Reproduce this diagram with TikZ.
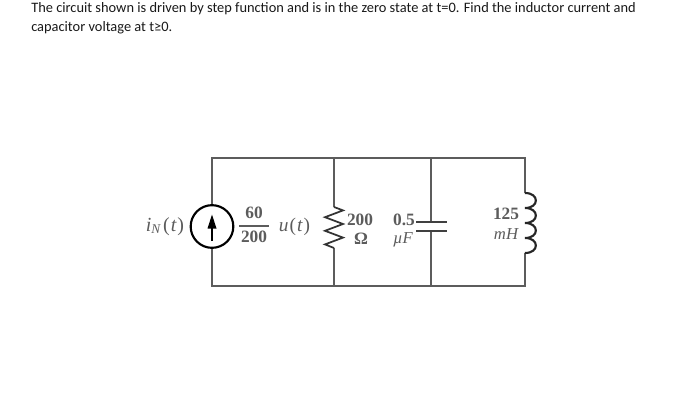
\documentclass[tikz,border=0pt]{standalone}
\usepackage{fontspec}
\setmainfont{Carlito}
\newfontfamily\mathish[Ligatures=TeX]{Liberation Serif}
\definecolor{wirec}{gray}{0.36}
\definecolor{labelc}{gray}{0.36}
\tikzset{
  wire/.style={draw=wirec,line width=1.3pt},
  plate/.style={draw=wirec!70!black,line width=1.6pt},
  ring/.style={circle,draw=black,line width=1.6pt,minimum size=32pt,inner sep=0pt},
  headtext/.style={anchor=base west,inner sep=0pt,font=\fontsize{10.8pt}{12pt}\selectfont,text=black!90},
  lbl/.style={inner sep=0pt,text=labelc,font=\fontsize{13pt}{14pt}\mathish\bfseries},
  mlbl/.style={inner sep=0pt,text=labelc,font=\fontsize{12.5pt}{14pt}\mathish\itshape}
}
\begin{document}
\begin{tikzpicture}[x=0.75pt,y=-0.75pt]
\useasboundingbox[fill=white] (0,0) rectangle (680,413);
\node[headtext] (h1) at (31,13) {The circuit shown is driven by step function and is in the zero state at t=0. Find the inductor current and};
\node[headtext] (h2) at (31,32) {capacitor voltage at t≥0.};
% corners and branch points
\coordinate (tl) at (212,158);
\coordinate (tr) at (525,158);
\coordinate (bl) at (212,286);
\coordinate (br) at (525,286);
\coordinate (rt) at (334,158);
\coordinate (rb) at (334,286);
\coordinate (ct) at (431,158);
\coordinate (cb) at (431,286);
\coordinate (r1) at (334,207);
\coordinate (r2) at (334,248);
\coordinate (c1) at (431,222);
\coordinate (c2) at (431,231);
\coordinate (l1) at (525,193);
\coordinate (l2) at (525,253);
\coordinate (pl1) at (416,222);
\coordinate (pr1) at (447,222);
\coordinate (pl2) at (416,231);
\coordinate (pr2) at (447,231);
\node[ring] (src) at (212,226.5) {};
\coordinate (at) at (212,218);
\coordinate (ab) at (212,241);
% wiring
\draw[wire] (src.north) -- (tl) -- (tr) -- (l1);
\draw[wire] (src.south) -- (bl) -- (br) -- (l2);
\draw[wire] (rt) -- (r1);
\draw[wire] (r2) -- (rb);
\draw[wire] (ct) -- (c1);
\draw[wire] (c2) -- (cb);
% resistor
\draw[wire,line join=miter,draw=black!80] (r1) -- ++(9,3.4) -- ++(-18,6.8) -- ++(18,6.8) -- ++(-18,6.8) -- ++(18,6.8) -- ++(-18,6.8) -- (r2);
% capacitor
\draw[plate] (pl1) -- (pr1);
\draw[plate] (pl2) -- (pr2);
% inductor
\draw[wire,line width=1.6pt,draw=black!85] (l1)
  .. controls (539.5,193) and (539.5,208) .. (525,208)
  .. controls (539.5,208) and (539.5,223) .. (525,223)
  .. controls (539.5,223) and (539.5,238) .. (525,238)
  .. controls (539.5,238) and (539.5,253) .. (l2);
% source arrow
\draw[black,line width=0.8pt] (ab) -- (at);
\fill[black] (212,214.5) -- (216.5,228.5) -- (207.5,228.5) -- cycle;
% labels
\node[mlbl,font=\fontsize{15pt}{16pt}\mathish\itshape,anchor=base] (iN) at (165,231) {i\raisebox{-2pt}{\fontsize{10pt}{10pt}\selectfont N}\hspace{2pt}{\upshape(}\hspace{0.8pt}t\hspace{0.8pt}{\upshape)}};
\node[lbl] (n60) at (254,213) {60};
\node[lbl] (n200) at (254,237) {200};
\coordinate (fl) at (239,226);
\coordinate (fr) at (269,226);
\draw[draw=labelc,line width=0.9pt] (fl) -- (fr);
\node[mlbl,font=\fontsize{14.5pt}{16pt}\mathish\itshape,anchor=base] (ut) at (294.5,231) {u\hspace{0.8pt}{\upshape(}\hspace{0.8pt}t\hspace{0.8pt}{\upshape)}};
\node[lbl] (r200) at (360,220) {200};
\node[lbl] (ohm) at (361,239) {Ω};
\node[lbl] (c05) at (404,220) {0.5};
\node[mlbl] (uf) at (403,240) {µF};
\node[lbl] (l125) at (506,214) {125};
\node[mlbl] (mh) at (506,234) {mH};
\end{tikzpicture}
\end{document}
